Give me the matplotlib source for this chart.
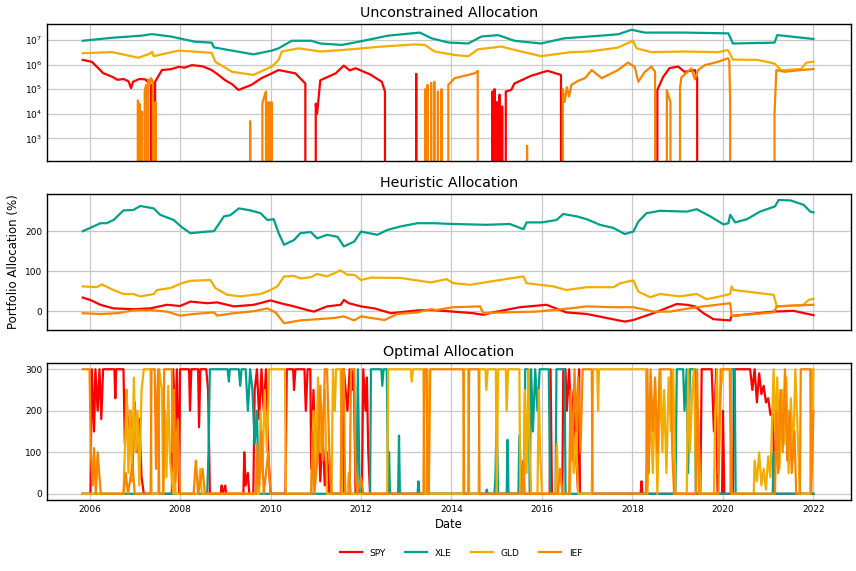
import matplotlib
matplotlib.use("Agg")
import matplotlib.pyplot as plt
from matplotlib.ticker import FixedLocator, FuncFormatter

# Darjeeling palette
COLORS = {"SPY": "#FF0000", "XLE": "#00A08A", "GLD": "#F2AD00", "IEF": "#F98400"}
NAMES = ["SPY", "XLE", "GLD", "IEF"]

# ---- Unconstrained allocation (log scale), decimal years / values ----
unc_spy_t = [2005.85, 2006.05, 2006.2, 2006.3, 2006.5, 2006.62, 2006.75, 2006.86, 2006.92, 2006.96,
             2007.1, 2007.23, 2007.36, 2007.38, 2007.42,
             2007.45, 2007.6, 2007.8, 2007.97, 2008.1, 2008.26, 2008.5, 2008.7, 2008.85, 2009.0,
             2009.15, 2009.29, 2009.58, 2009.8, 2010.03, 2010.18,
             2010.55, 2010.77, 2010.8, 2010.97, 2011.0, 2011.03, 2011.1, 2011.44, 2011.62, 2011.75,
             2011.88, 2012.2,
             2012.46, 2012.53, 2012.57, 2013.2, 2013.22, 2013.24, 2014.88, 2014.9, 2014.92, 2014.95,
             2014.97, 2015.0, 2015.02, 2015.06, 2015.08, 2015.12, 2015.14, 2015.2, 2015.32, 2015.39,
             2015.76, 2016.12, 2016.42, 2016.45, 2018.53, 2018.55, 2018.68, 2018.82, 2019.01, 2019.15,
             2019.38, 2019.43, 2019.46, 2022.0]
unc_spy_v = [1.55e6, 1.3e6, 7e5, 4.5e5, 3.2e5, 2.4e5, 2.6e5, 2.1e5, 1.1e5, 2.0e5,
             2.6e5, 2.5e5, 1.5e5, 0, 0,
             2.0e5, 6.0e5, 6.5e5, 8.1e5, 7.5e5, 9.5e5, 8.5e5, 6.0e5, 3.8e5, 2.3e5,
             1.6e5, 9.3e4, 1.5e5, 2.8e5, 4.4e5, 6.0e5,
             4.4e5, 1.7e5, 0, 0, 2.6e4, 1e4, 2.3e5, 4.4e5, 9.1e5, 5.8e5,
             7.1e5, 4.0e5,
             2.0e5, 8e4, 0, 0, 4.2e5, 0, 0, 8e4, 0, 1e5,
             0, 3e4, 0, 6e4, 0, 2e4, 0, 8e4, 9.3e4, 1.7e5,
             3.5e5, 5.6e5, 3.8e5, 0, 0, 9.3e4, 3.2e5, 7.2e5, 8.3e5, 5.1e5,
             6e5, 2.75e5, 0, 0]

unc_xle_t = [2005.85, 2006.5, 2007.15, 2007.38, 2007.8, 2008.33, 2008.7, 2008.75, 2009.15, 2009.62,
             2010.03, 2010.18, 2010.47, 2010.9, 2011.1, 2011.58, 2011.95, 2012.6, 2013.3, 2013.56,
             2013.93, 2014.37, 2014.66, 2015.03, 2015.39, 2015.98, 2016.49, 2017.04, 2017.68, 2017.98,
             2018.27, 2019.15, 2020.12, 2020.22, 2021.14, 2021.2, 2022.0]
unc_xle_v = [9.3e6, 1.23e7, 1.5e7, 1.74e7, 1.38e7, 8.5e6, 7.8e6, 5.0e6, 3.7e6, 2.6e6,
             3.7e6, 4.6e6, 9.3e6, 9.3e6, 7.2e6, 6.3e6, 8.5e6, 1.5e7, 2.0e7, 1.17e7,
             7.9e6, 7.2e6, 1.38e7, 1.58e7, 9.3e6, 7.2e6, 1.17e7, 1.38e7, 1.7e7, 2.6e7,
             2.0e7, 2.0e7, 1.86e7, 7.2e6, 7.8e6, 1.58e7, 1.1e7]

unc_gld_t = [2005.85, 2006.5, 2007.08, 2007.33, 2007.38, 2007.42, 2007.97, 2008.7, 2008.78, 2009.15,
             2009.62, 2010.03, 2010.18, 2010.25, 2010.62, 2011.1, 2011.58, 2012.46, 2013.19, 2013.41,
             2013.63, 2014.07, 2014.37, 2014.59, 2015.1, 2015.54, 2015.98, 2016.64, 2017.04, 2017.68,
             2018.01, 2018.09, 2018.42, 2019.15, 2019.89, 2020.11, 2020.22, 2020.77, 2021.14, 2021.29,
             2021.73, 2021.84, 2022.0]
unc_gld_v = [2.9e6, 3.2e6, 1.9e6, 2.75e6, 3.3e6, 2.2e6, 3.7e6, 3.0e6, 1.3e6, 5.1e5,
             3.8e5, 8.3e5, 1.55e6, 3.4e6, 4.6e6, 3.4e6, 3.9e6, 5.4e6, 6.6e6, 6.3e6,
             3.4e6, 2.45e6, 2.2e6, 4.2e6, 5.4e6, 3.4e6, 2.2e6, 3.2e6, 3.4e6, 4.9e6,
             9.3e6, 4.6e6, 3.2e6, 3.4e6, 3.2e6, 3.9e6, 1.6e6, 1.55e6, 1.1e6, 5.9e5,
             6.6e5, 1.2e6, 1.3e6]

unc_ief_t = [2005.85, 2007.05, 2007.07, 2007.09, 2007.11, 2007.13, 2007.16, 2007.18, 2007.22, 2007.25,
             2007.28, 2007.3, 2007.33, 2007.36, 2007.4, 2007.43, 2007.46, 2007.48, 2009.54, 2009.55,
             2009.57, 2009.8, 2009.82, 2009.86, 2009.9, 2009.93, 2009.96, 2009.98, 2010.02, 2010.05,
             2013.4, 2013.42, 2013.44, 2013.47, 2013.5, 2013.55, 2013.58, 2013.62, 2013.66, 2013.7,
             2013.74, 2013.78, 2013.8, 2013.9, 2013.93, 2014.07, 2014.51, 2014.58, 2014.62, 2015.66,
             2015.67, 2015.69, 2016.43, 2016.46, 2016.5, 2016.55, 2016.6, 2016.65, 2016.8, 2016.95,
             2017.1, 2017.32, 2017.68, 2017.9, 2018.05, 2018.13, 2018.27, 2018.42, 2018.5, 2018.53,
             2018.74, 2018.76, 2018.8, 2018.84, 2018.87, 2019.03, 2019.05, 2019.08, 2019.3, 2019.38,
             2019.45, 2019.6, 2019.89, 2020.11, 2020.14, 2020.16, 2020.17, 2021.12, 2021.14, 2021.18,
             2021.36, 2021.73, 2022.0]
unc_ief_v = [0, 0, 3.5e4, 0, 2.5e4, 0, 1.2e4, 0, 8e4, 1.5e5,
             0, 2.5e5, 1.5e5, 2.8e5, 2.0e5, 0, 3e4, 0, 0, 5e3,
             0, 0, 2.5e4, 5e4, 8e4, 0, 3e4, 0, 3e4, 0,
             0, 1e5, 0, 1.5e5, 0, 1.8e5, 0, 2e5, 0, 8e4,
             0, 1e5, 0, 0, 1.5e5, 2.8e5, 4.4e5, 5.5e5, 0, 0,
             500, 0, 0, 1e5, 3e4, 1.2e5, 5e4, 1.5e5, 2.2e5, 2.8e5,
             6.0e5, 2.8e5, 6.0e5, 1.2e6, 8e5, 2e5, 5e5, 8.3e5, 5e5, 0,
             0, 9e4, 5e4, 3e4, 0, 0, 1.1e5, 3e5, 7e5, 2.5e5,
             6e5, 9.5e5, 1.3e6, 1.8e6, 1.5e6, 3e4, 0, 0, 1e4, 6e5,
             5.1e5, 6e5, 6.6e5]

# ---- Heuristic allocation (%) ----
heu_spy_t = [2005.85, 2006.02, 2006.24, 2006.53, 2006.97, 2007.34, 2007.71, 2008.0, 2008.23, 2008.6,
             2008.82, 2009.19, 2009.63, 2010.0, 2010.22, 2010.52, 2010.81, 2010.96, 2011.25, 2011.55,
             2011.62, 2011.73, 2012.0, 2012.3, 2012.66, 2013.25, 2013.54, 2014.04, 2014.48, 2014.7,
             2014.92, 2015.51, 2016.1, 2016.54, 2016.99, 2017.43, 2017.83, 2018.02, 2018.46, 2018.98,
             2019.2, 2019.38, 2019.57, 2019.79, 2020.16, 2020.19, 2021.12, 2021.56, 2022.0]
heu_spy_v = [34, 28, 16, 7, 5, 7, 16, 13, 24, 20,
             22, 12, 16, 27, 20, 12, 3, -1, 12, 16,
             28, 20, 12, 7, -5, 2, 3, -1, -5, -9,
             -3, 10, 16, -3, -7, -17, -26, -22, -5, 18,
             16, 12, -5, -20, -23, -12, -1, 1, -10]

heu_xle_t = [2005.85, 2006.09, 2006.24, 2006.38, 2006.53, 2006.75, 2006.97, 2007.12, 2007.42, 2007.56,
             2007.86, 2008.04, 2008.23, 2008.6, 2008.75, 2008.97, 2009.11, 2009.3, 2009.56, 2009.78,
             2009.93, 2010.07, 2010.18, 2010.3, 2010.52, 2010.66, 2010.89, 2011.03, 2011.25, 2011.48,
             2011.62, 2011.85, 2012.0, 2012.36, 2012.58, 2012.88, 2013.25, 2013.6, 2014.04, 2014.77,
             2015.29, 2015.59, 2015.66, 2016.0, 2016.32, 2016.47, 2016.77, 2016.99, 2017.28, 2017.58,
             2017.83, 2018.02, 2018.13, 2018.31, 2018.61, 2019.2, 2019.42, 2019.72, 2020.01, 2020.12,
             2020.16, 2020.27, 2020.53, 2020.82, 2021.15, 2021.23, 2021.49, 2021.78, 2021.93, 2022.0]
heu_xle_v = [200, 212, 220, 220, 228, 252, 253, 263, 257, 241,
             228, 210, 195, 199, 200, 237, 240, 257, 252, 245,
             228, 230, 195, 166, 178, 195, 198, 182, 191, 186,
             162, 174, 199, 191, 203, 212, 220, 220, 218, 216,
             218, 205, 222, 222, 228, 243, 237, 230, 216, 208,
             193, 199, 224, 245, 251, 249, 255, 237, 217, 220,
             241, 222, 230, 249, 262, 278, 277, 266, 249, 247]

heu_gld_t = [2005.85, 2006.16, 2006.27, 2006.53, 2006.75, 2006.97, 2007.12, 2007.42, 2007.49, 2007.79,
             2008.04, 2008.23, 2008.67, 2008.78, 2009.04, 2009.33, 2009.78, 2010.0, 2010.15, 2010.3,
             2010.52, 2010.66, 2010.89, 2011.03, 2011.25, 2011.55, 2011.7, 2011.85, 2012.0, 2012.22,
             2012.88, 2013.54, 2013.89, 2014.04, 2014.41, 2015.07, 2015.59, 2015.66, 2016.25, 2016.54,
             2016.99, 2017.58, 2017.73, 2018.02, 2018.13, 2018.39, 2018.61, 2019.05, 2019.42, 2019.64,
             2019.94, 2020.16, 2020.19, 2020.23, 2021.12, 2021.19, 2021.78, 2021.89, 2022.0]
heu_gld_v = [62, 60, 67, 53, 43, 43, 37, 43, 53, 58,
             70, 76, 78, 58, 41, 37, 43, 53, 62, 87,
             88, 82, 85, 93, 87, 102, 91, 91, 78, 84,
             83, 72, 80, 70, 66, 78, 87, 70, 62, 53,
             60, 60, 70, 77, 49, 35, 43, 37, 43, 30,
             37, 43, 62, 53, 41, 12, 16, 28, 31]

heu_ief_t = [2005.85, 2006.24, 2006.61, 2006.97, 2007.34, 2007.71, 2008.0, 2008.3, 2008.75, 2008.82,
             2009.19, 2009.63, 2009.93, 2010.11, 2010.3, 2010.66, 2011.03, 2011.4, 2011.62, 2011.85,
             2012.0, 2012.52, 2012.8, 2013.25, 2013.54, 2013.67, 2014.04, 2014.63, 2014.7, 2015.14,
             2015.88, 2016.62, 2016.99, 2017.58, 2018.02, 2018.46, 2018.83, 2019.35, 2019.57, 2020.16,
             2020.19, 2021.12, 2021.19, 2022.0]
heu_ief_v = [-5, -7, -5, 2, 3, -1, -11, -7, -3, -11,
             -5, 0, 7, -3, -30, -23, -20, -17, -13, -23,
             -13, -22, -7, -3, 5, 3, 10, 12, -5, -3,
             -1, 7, 12, 10, 10, -1, -1, 9, 12, 20,
             -12, -3, 12, 16]

# ---- Optimal allocation (%) ----
opt_spy_t = [2005.85, 2006.02, 2006.05, 2006.1, 2006.13, 2006.18, 2006.22, 2006.26, 2006.3, 2006.55,
             2006.57, 2006.59, 2006.75, 2006.78, 2006.82, 2006.86, 2006.9, 2006.95, 2007.0, 2007.05,
             2007.1, 2007.15, 2007.2, 2007.82, 2007.85, 2007.9, 2007.93, 2007.98, 2008.0, 2008.2,
             2008.22, 2008.25, 2008.4, 2008.42, 2008.45, 2008.58, 2008.62, 2008.66, 2008.9, 2008.92,
             2008.94, 2009.0, 2009.02, 2009.4, 2009.42, 2009.45, 2009.5, 2009.53, 2009.62, 2009.65,
             2009.7, 2009.75, 2009.8, 2009.85, 2009.9, 2009.95, 2010.0, 2010.33, 2010.36, 2010.5,
             2010.52, 2010.55, 2010.75, 2010.78, 2010.82, 2010.88, 2010.9, 2010.95, 2011.0, 2011.05,
             2011.1, 2011.15, 2011.2, 2011.25, 2011.3, 2011.6, 2011.62, 2011.7, 2011.75, 2011.8,
             2011.84, 2011.88, 2012.02, 2012.05, 2012.1, 2012.13, 2012.16, 2012.2, 2016.17, 2016.19,
             2016.22, 2016.45, 2016.47, 2016.52, 2016.55, 2016.6, 2016.65, 2016.7, 2016.75, 2016.8,
             2016.82, 2016.84, 2018.18, 2018.2, 2018.22, 2019.5, 2019.53, 2019.75, 2019.8, 2019.85,
             2019.88, 2019.98, 2020.0, 2020.03, 2020.22, 2020.25, 2020.6, 2020.65, 2020.7, 2020.75,
             2020.8, 2020.85, 2020.9, 2020.95, 2021.0, 2021.05, 2021.1, 2021.15, 2022.0]
opt_spy_v = [0, 0, 300, 150, 300, 200, 300, 180, 300, 300,
             230, 300, 300, 120, 250, 90, 200, 60, 220, 100,
             180, 40, 0, 0, 300, 150, 300, 0, 300, 300,
             200, 300, 300, 160, 300, 300, 250, 0, 0, 20,
             0, 20, 0, 0, 100, 20, 50, 0, 0, 250,
             300, 180, 300, 200, 300, 100, 0, 0, 300, 300,
             250, 300, 300, 200, 300, 300, 60, 250, 50, 200,
             30, 150, 20, 100, 0, 0, 300, 200, 300, 250,
             300, 0, 0, 300, 200, 280, 100, 0, 0, 300,
             0, 0, 300, 300, 200, 300, 150, 250, 100, 0,
             300, 0, 0, 30, 0, 0, 300, 300, 150, 300,
             0, 0, 200, 0, 0, 300, 300, 250, 300, 220,
             290, 240, 260, 220, 230, 190, 200, 0, 0]

opt_xle_t = [2005.85, 2008.6, 2008.63, 2008.66, 2009.05, 2009.08, 2009.1, 2009.3, 2009.33, 2009.36,
             2009.45, 2009.5, 2009.55, 2009.6, 2009.65, 2009.7, 2009.74, 2011.9, 2011.93, 2011.97,
             2012.2, 2012.22, 2012.45, 2012.47, 2012.5, 2012.57, 2012.6, 2012.62, 2012.64, 2012.82,
             2012.84, 2012.86, 2013.25, 2013.27, 2013.29, 2014.76, 2014.78, 2014.8, 2014.95, 2014.97,
             2015.0, 2015.03, 2015.22, 2015.24, 2015.26, 2015.48, 2015.5, 2015.55, 2015.6, 2015.63,
             2015.7, 2015.73, 2015.76, 2015.8, 2015.85, 2015.9, 2015.95, 2016.15, 2016.18, 2016.3,
             2016.32, 2016.5, 2016.52, 2018.95, 2018.98, 2019.12, 2019.15, 2019.2, 2019.23, 2019.27,
             2019.38, 2019.4, 2020.17, 2020.19, 2020.26, 2020.28, 2021.1, 2021.12, 2021.14, 2022.0]
opt_xle_v = [0, 0, 100, 300, 300, 270, 300, 300, 260, 300,
             300, 200, 300, 250, 120, 200, 0, 0, 300, 0,
             0, 300, 300, 260, 300, 300, 0, 100, 0, 0,
             140, 0, 0, 30, 0, 0, 10, 0, 0, 40,
             180, 0, 0, 130, 0, 0, 140, 0, 0, 300,
             300, 0, 300, 150, 300, 200, 300, 300, 0, 0,
             300, 300, 0, 0, 300, 300, 200, 300, 50, 300,
             300, 0, 0, 300, 300, 0, 0, 100, 0, 0]

opt_gld_t = [2005.85, 2006.75, 2006.78, 2006.82, 2006.86, 2006.9, 2006.94, 2006.98, 2007.02, 2007.06,
             2007.1, 2007.15, 2007.2, 2007.35, 2007.37, 2007.52, 2007.54, 2007.6, 2007.63, 2007.67,
             2007.7, 2007.74, 2007.78, 2007.85,
             2007.87, 2007.9, 2008.4, 2008.45, 2008.48, 2009.75, 2009.78, 2009.82, 2009.87, 2009.92,
             2009.97, 2010.32, 2010.34, 2010.9, 2010.95, 2011.0, 2011.05, 2011.1, 2011.2, 2011.25,
             2011.35, 2011.38, 2011.42, 2011.45, 2011.55, 2011.58, 2011.7, 2011.73, 2011.78, 2012.58,
             2012.6, 2013.1, 2013.12, 2013.15, 2013.38, 2013.4, 2013.45, 2013.47, 2013.5, 2014.26,
             2014.28, 2014.37, 2014.39, 2014.6, 2014.62, 2014.75, 2014.77, 2014.8, 2014.98, 2015.0,
             2015.03, 2015.2, 2015.22, 2015.25, 2015.5, 2015.52, 2015.6, 2015.62, 2015.66, 2015.7,
             2015.73, 2015.76, 2015.9, 2015.93, 2015.96, 2016.0, 2016.3, 2016.33, 2016.36, 2016.62,
             2016.65, 2016.7, 2016.75, 2016.8, 2017.1, 2017.13, 2017.22, 2017.24, 2017.26, 2018.3,
             2018.33, 2018.4, 2018.45, 2018.5, 2018.55, 2018.62, 2018.66, 2018.7, 2018.75, 2018.8,
             2018.85, 2018.9, 2018.95, 2019.2, 2019.23, 2019.27, 2019.32, 2019.36, 2019.4, 2019.45,
             2019.5, 2019.8, 2019.83, 2019.87, 2019.9, 2019.95, 2020.0, 2020.17, 2020.19, 2020.68,
             2020.7, 2020.75, 2020.8, 2020.85, 2020.9, 2020.95, 2021.0, 2021.05, 2021.12, 2021.15,
             2021.2, 2021.25, 2021.3, 2021.35, 2021.4, 2021.45, 2021.5, 2021.55, 2021.6, 2021.65,
             2021.7, 2021.93, 2021.95, 2021.98, 2022.0]
opt_gld_v = [0, 0, 100, 250, 50, 200, 30, 280, 100, 200,
             20, 250, 300, 300, 0, 0, 300, 250, 0, 200,
             40, 260, 80, 0,
             150, 0, 0, 60, 0, 0, 200, 50, 250, 100,
             300, 300, 0, 0, 200, 40, 280, 100, 250, 0,
             0, 300, 200, 300, 300, 0, 0, 50, 0, 0,
             300, 300, 270, 300, 300, 0, 0, 300, 0, 0,
             300, 300, 0, 0, 300, 300, 250, 300, 300, 0,
             300, 300, 200, 300, 300, 0, 0, 250, 50, 300,
             100, 0, 0, 250, 100, 0, 0, 120, 0, 0,
             200, 50, 150, 0, 0, 300, 300, 200, 300, 300,
             0, 200, 50, 250, 0, 300, 100, 250, 50, 280,
             150, 300, 0, 0, 300, 100, 250, 300, 50, 200,
             0, 0, 200, 300, 50, 250, 300, 300, 0, 0,
             80, 30, 100, 20, 60, 10, 90, 40, 300, 150,
             280, 60, 250, 120, 280, 50, 230, 90, 300, 150,
             0, 0, 300, 100, 300]

opt_ief_t = [2005.85, 2006.0, 2006.03, 2006.07, 2006.1, 2006.14, 2006.18, 2006.22, 2006.25, 2006.75,
             2006.8, 2006.85, 2006.95, 2007.0, 2007.35, 2007.37, 2007.44, 2007.47, 2007.5, 2007.52,
             2007.54, 2007.63, 2007.65,
             2007.82, 2007.84, 2007.87, 2007.9, 2007.95, 2008.0, 2008.3, 2008.35, 2008.4, 2008.5,
             2008.55, 2009.68, 2009.7, 2009.75, 2009.8, 2009.85, 2009.95, 2010.0, 2010.9, 2010.93,
             2010.97, 2011.05, 2011.1, 2011.15, 2011.2, 2011.25, 2011.3, 2011.35, 2011.55, 2011.58,
             2011.62, 2011.65, 2011.75, 2011.78, 2011.85, 2011.88, 2011.92, 2012.0, 2012.05, 2013.38,
             2013.4, 2013.45, 2013.47, 2013.5, 2013.53, 2014.26, 2014.28, 2014.37, 2014.39, 2014.6,
             2014.62, 2015.55, 2015.58, 2015.62, 2016.35, 2016.4, 2016.45, 2016.6, 2016.63, 2016.67,
             2016.72, 2016.76, 2016.8, 2016.85, 2016.9, 2017.1, 2017.12, 2018.3, 2018.33, 2018.36,
             2018.4, 2018.45, 2018.5, 2018.55, 2018.6, 2018.85, 2018.88, 2018.92, 2019.4, 2019.43,
             2019.47, 2019.9, 2019.95, 2020.15, 2020.18, 2021.15, 2021.18, 2021.22, 2021.27, 2021.32,
             2021.37, 2021.42, 2021.47, 2021.52, 2021.58, 2021.62, 2021.7, 2021.72, 2021.93, 2021.95,
             2022.0]
opt_ief_v = [300, 300, 100, 20, 110, 0, 100, 40, 0, 0,
             50, 0, 70, 0, 0, 300, 300, 60, 250, 300,
             0, 0, 300,
             300, 100, 250, 30, 180, 0, 0, 80, 0, 60,
             0, 0, 120, 20, 150, 0, 100, 0, 0, 150,
             0, 100, 260, 80, 300, 300, 100, 0, 0, 300,
             300, 0, 0, 300, 300, 50, 0, 40, 0, 0,
             300, 300, 0, 0, 300, 300, 0, 0, 300, 300,
             0, 0, 80, 0, 0, 60, 0, 0, 250, 80,
             300, 150, 280, 100, 300, 300, 0, 0, 300, 50,
             300, 150, 280, 100, 300, 300, 100, 0, 0, 300,
             0, 0, 300, 300, 0, 0, 200, 50, 250, 100,
             300, 80, 200, 50, 150, 0, 0, 300, 300, 0,
             200]

unc = {"SPY": (unc_spy_t, unc_spy_v), "XLE": (unc_xle_t, unc_xle_v),
       "GLD": (unc_gld_t, unc_gld_v), "IEF": (unc_ief_t, unc_ief_v)}
heu = {"SPY": (heu_spy_t, heu_spy_v), "XLE": (heu_xle_t, heu_xle_v),
       "GLD": (heu_gld_t, heu_gld_v), "IEF": (heu_ief_t, heu_ief_v)}
opt = {"SPY": (opt_spy_t, opt_spy_v), "XLE": (opt_xle_t, opt_xle_v),
       "GLD": (opt_gld_t, opt_gld_v), "IEF": (opt_ief_t, opt_ief_v)}

fig = plt.figure(figsize=(8.56, 5.71), dpi=100)
left, width = 47 / 856, 804 / 856
ax1 = fig.add_axes([left, 1 - 161 / 571, width, 137 / 571])
ax2 = fig.add_axes([left, 1 - 330 / 571, width, 136 / 571])
ax3 = fig.add_axes([left, 1 - 500 / 571, width, 137 / 571])

LW = 1.6
for ax, data, title in [(ax1, unc, "Unconstrained Allocation"),
                        (ax2, heu, "Heuristic Allocation"),
                        (ax3, opt, "Optimal Allocation")]:
    for name in NAMES:
        t, v = data[name]
        ax.plot(t, v, color=COLORS[name], lw=LW, label=name)
    ax.set_title(title, fontsize=10.3, pad=5)
    ax.set_xlim(2005.06, 2022.83)
    ax.xaxis.set_major_locator(FixedLocator([2006, 2008, 2010, 2012, 2014, 2016, 2018, 2020, 2022]))
    ax.grid(True, color="#c8c8c8", lw=0.9)
    ax.set_axisbelow(True)
    ax.tick_params(length=0, labelsize=6.5, pad=3.5)
    for s in ax.spines.values():
        s.set_color("black")
        s.set_linewidth(1.0)

ax1.set_yscale("log")
ax1.set_ylim(10 ** 2.08, 10 ** 7.65)
ax1.yaxis.set_major_locator(FixedLocator([1e3, 1e4, 1e5, 1e6, 1e7]))
ax1.yaxis.set_minor_locator(FixedLocator([]))
ax1.set_xticklabels([])
ax2.set_ylim(-47, 293)
ax2.set_yticks([0, 100, 200])
ax2.set_xticklabels([])
ax3.set_ylim(-15, 315)
ax3.set_yticks([0, 100, 200, 300])
ax3.xaxis.set_major_formatter(FuncFormatter(lambda x, p: f"{int(round(x))}"))

ax2.set_ylabel("Portfolio Allocation (%)", fontsize=8.5)
ax2.yaxis.set_label_coords(-0.033, 0.5)
ax3.set_xlabel("Date", fontsize=8.4, labelpad=3)

handles, labels = ax3.get_legend_handles_labels()
fig.legend(handles, labels, loc="center", bbox_to_anchor=(461 / 856, 1 - 553 / 571), ncol=4,
           frameon=False, fontsize=6.5, handlelength=2.4, handletextpad=0.85, columnspacing=2.2)

fig.savefig("out.png", dpi=100)
